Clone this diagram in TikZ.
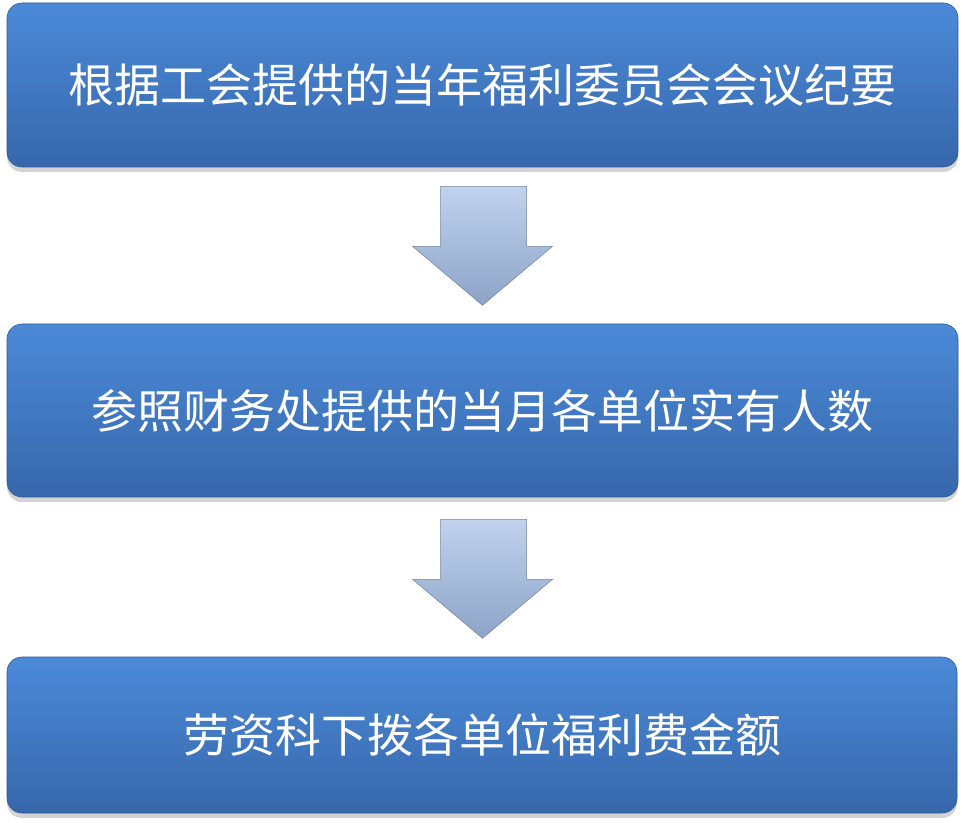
\documentclass[tikz,border=0pt]{standalone}
\usepackage{fontspec}
\newfontfamily\cjk{Noto Sans CJK SC}
\usetikzlibrary{shadows,calc}
\definecolor{boxtop}{HTML}{4B8AD8}
\definecolor{boxbot}{HTML}{3767AB}
\definecolor{arrtop}{HTML}{C0D2EE}
\definecolor{arrbot}{HTML}{8DA3C7}
\tikzset{
  stepbox/.style={rounded corners=15pt, top color=boxtop, bottom color=boxbot,
    draw=boxbot!85!black, line width=0.6pt, text=white,
    drop shadow={shadow xshift=0pt, shadow yshift=-5pt, opacity=0.35},
    font=\cjk\fontsize{46}{52}\selectfont, inner sep=0pt},
  flowarrow/.style={top color=arrtop, bottom color=arrbot, draw=arrbot!80!black, line width=0.5pt}
}
% block arrow pointing down, #1 = top centre
\newcommand\blockarrow[1]{%
  \path[flowarrow] ($(#1)+(-42pt,0)$) -- ($(#1)+(44pt,0)$) -- ($(#1)+(44pt,-60pt)$)
    -- ($(#1)+(70pt,-60pt)$) -- ($(#1)+(0,-119pt)$) -- ($(#1)+(-70pt,-60pt)$)
    -- ($(#1)+(-42pt,-60pt)$) -- cycle;}
\begin{document}
\begin{tikzpicture}[x=1pt,y=1pt]
    \useasboundingbox (0,0) rectangle (965,822);
    \node[stepbox, minimum width=951pt, minimum height=164pt] (meeting) at (482.5,737) {根据工会提供的当年福利委员会会议纪要};
    \node[stepbox, minimum width=951pt, minimum height=173pt] (staff) at (482.5,411.5) {参照财务处提供的当月各单位实有人数};
    \node[stepbox, minimum width=950pt, minimum height=156pt] (funds) at (482,87) {劳资科下拨各单位福利费金额};
    \coordinate (a1) at ($(meeting.south)+(0,-19)$);
    \coordinate (a2) at ($(staff.south)+(0,-22)$);
    \blockarrow{a1}
    \blockarrow{a2}
\end{tikzpicture}
\end{document}
